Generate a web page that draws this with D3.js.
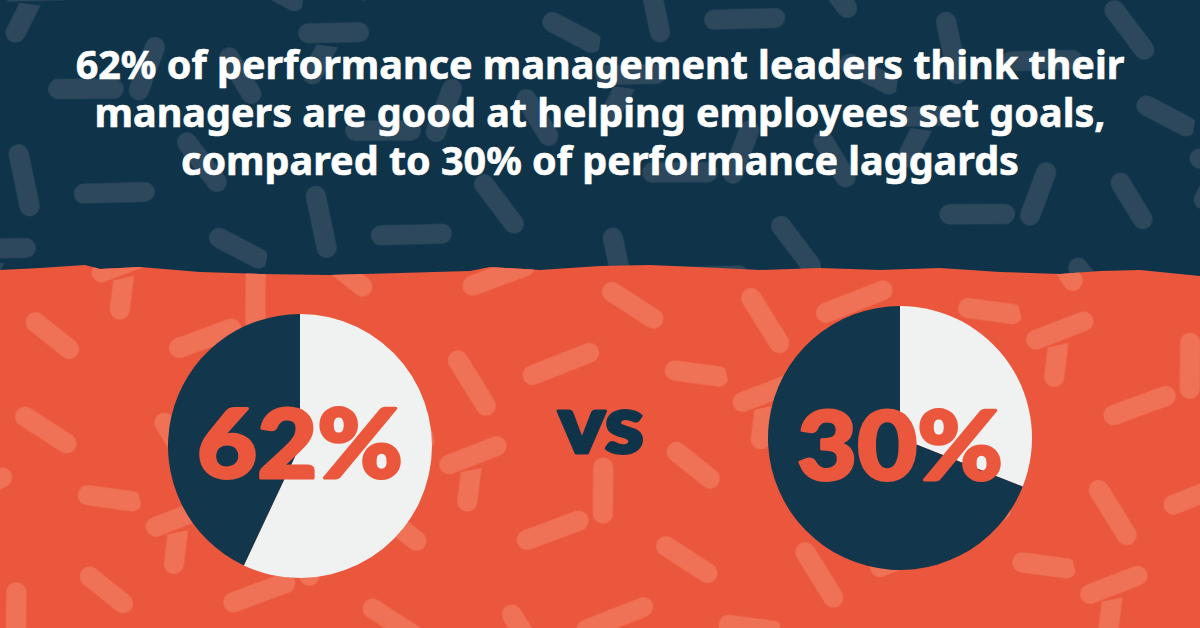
<!DOCTYPE html>
<html>
<head>
<meta charset="utf-8">
<script src="https://cdn.jsdelivr.net/npm/d3@7"></script>
<style>
  html, body { margin: 0; padding: 0; background: #0f344a; }
  svg { display: block; }
</style>
</head>
<body>
<script>
  const titleLines = [
    '62% of performance management leaders think their',
    'managers are good at helping employees set goals,',
    'compared to 30% of performance laggards'
  ];

  const groups = ['Performance leaders', 'Performance laggards'];
  const labels = ['62%', '30%'];
  // slice sizes as drawn in the picture (the first pie is drawn smaller than its label)
  const sliceShare = [57, 31];
  const compareWord = 'vs';

  const width = 1200;
  const height = 628;
  const navy = '#0f344a';
  const orange = '#eb573c';
  const light = '#f0f2f1';
  const pieDark = '#12364c';

  const svg = d3.select('body')
    .append('svg')
    .attr('width', width)
    .attr('height', height);

  // squiggle texture, one tile repeated
  const tileStrokes = [
    [20, 30, 32, -5], [70, 80, 125, 72], [160, 25, 150, 70], [205, 115, 240, 150],
    [40, 150, 58, 200], [110, 180, 170, 170], [235, 25, 262, 58],
    [10, 250, 60, 242], [250, 205, 292, 220]
  ];
  const tile = {w: 300, h: 260};

  const defs = svg.append('defs');
  [['texNavy', '#2d485d'], ['texOrange', '#ef7256']].forEach(([id, col]) => {
    const p = defs.append('pattern')
      .attr('id', id)
      .attr('patternUnits', 'userSpaceOnUse')
      .attr('width', tile.w)
      .attr('height', tile.h)
      .attr('patternTransform', id === 'texNavy' ? 'rotate(8)' : 'translate(40,30) rotate(-12)');
    p.selectAll('line')
      .data(tileStrokes)
      .enter()
      .append('line')
      .attr('x1', d => d[0]).attr('y1', d => d[1])
      .attr('x2', d => d[2]).attr('y2', d => d[3])
      .attr('stroke', col)
      .attr('stroke-width', 20)
      .attr('stroke-linecap', 'round');
  });

  svg.append('rect').attr('width', width).attr('height', height).attr('fill', navy);
  svg.append('rect').attr('width', width).attr('height', 300).attr('fill', 'url(#texNavy)');

  // ragged edge between the two halves
  const edge = [
    [0, 270], [40, 268], [85, 265], [100, 269], [140, 267], [200, 272], [260, 274],
    [330, 275], [400, 273], [470, 271], [490, 267], [540, 270], [600, 266], [650, 265],
    [720, 268], [760, 270], [820, 268], [880, 270], [940, 268], [1000, 272], [1060, 274],
    [1100, 271], [1140, 270], [1170, 273], [1200, 276]
  ];
  const edgeLine = d3.line().curve(d3.curveLinear);
  const lower = edge.concat([[width, height], [0, height]]);
  defs.append('clipPath').attr('id', 'lowerClip')
    .append('path').attr('d', edgeLine(lower) + 'Z');

  const lowerG = svg.append('g').attr('clip-path', 'url(#lowerClip)');
  lowerG.append('rect').attr('width', width).attr('height', height).attr('fill', orange);
  lowerG.append('rect').attr('width', width).attr('height', height).attr('fill', 'url(#texOrange)');

  // title
  svg.append('g')
    .selectAll('text')
    .data(titleLines)
    .enter()
    .append('text')
    .attr('x', width / 2)
    .attr('y', (d, i) => 79 + i * 48)
    .attr('text-anchor', 'middle')
    .attr('fill', '#ffffff')
    .attr('stroke', '#ffffff')
    .attr('stroke-width', 0.6)
    .style('font-family', '"Noto Sans", "Open Sans", sans-serif')
    .style('font-weight', 700)
    .style('font-size', '39.5px')
    .text(d => d);

  // pies
  const x = d3.scalePoint().domain(groups).range([300, 900]);
  const radius = 132;
  const pie = d3.pie().sort(null).value(d => d);
  const arc = d3.arc().innerRadius(0).outerRadius(radius);

  const pies = svg.selectAll('.pie')
    .data(groups)
    .enter()
    .append('g')
    .attr('class', 'pie')
    .attr('transform', (d, i) => `translate(${x(d)}, ${i === 0 ? 446 : 438})`);

  pies.selectAll('path')
    .data((d, i) => pie([sliceShare[i], 100 - sliceShare[i]]))
    .enter()
    .append('path')
    .attr('d', arc)
    .attr('fill', (d, i) => i === 0 ? light : pieDark);

  pies.append('text')
    .attr('x', 0)
    .attr('y', (d, i) => i === 0 ? 32 : 42)
    .attr('text-anchor', 'middle')
    .attr('fill', orange)
    .attr('stroke', orange)
    .attr('stroke-width', 3)
    .attr('stroke-linejoin', 'round')
    .attr('textLength', 206)
    .attr('lengthAdjust', 'spacingAndGlyphs')
    .style('font-family', 'Lato, "Open Sans", sans-serif')
    .style('font-weight', 900)
    .style('font-size', '95px')
    .text((d, i) => labels[i]);

  svg.append('text')
    .attr('x', width / 2 + 1)
    .attr('y', 453)
    .attr('text-anchor', 'middle')
    .attr('fill', navy)
    .attr('stroke', navy)
    .attr('stroke-width', 3)
    .attr('stroke-linejoin', 'round')
    .attr('textLength', 86)
    .attr('lengthAdjust', 'spacingAndGlyphs')
    .style('font-family', 'Lato, "Open Sans", sans-serif')
    .style('font-weight', 900)
    .style('font-size', '82px')
    .text(compareWord);
</script>
</body>
</html>
